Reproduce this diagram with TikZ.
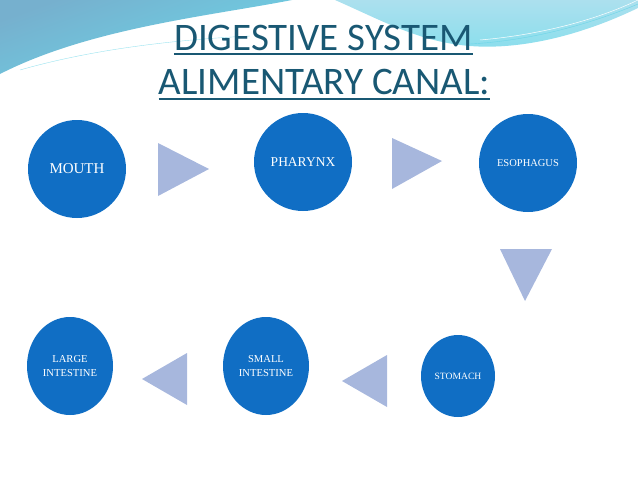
\documentclass[tikz,border=0pt]{standalone}
\usepackage{fontspec}
\newfontfamily\ttlfont{Carlito}
\newfontfamily\lblfont{Liberation Serif}
\usetikzlibrary{positioning,calc,shapes.geometric}
\definecolor{organblue}{RGB}{16,110,196}
\definecolor{arrowblue}{RGB}{167,183,221}
\definecolor{titleteal}{RGB}{25,88,115}
\definecolor{waveblue}{RGB}{118,176,206}
\definecolor{wavecyan}{RGB}{108,214,232}
\definecolor{wavelight}{RGB}{172,224,238}
\newcommand*{\lbl}[1]{\lblfont\fontsize{#1}{13.5}\selectfont}

\begin{document}
\begin{tikzpicture}[x=1pt,y=-1pt,
  organ/.style={fill=organblue,text=white,circle,minimum size=98pt,inner sep=0pt,align=center},
  organoval/.style={organ,ellipse,minimum width=86pt,minimum height=98pt},
  arrowfill/.style={fill=arrowblue},
  title/.style={text=titleteal,font=\ttlfont\fontsize{39}{44}\selectfont,inner sep=0pt,anchor=base},
  uline/.style={titleteal,line width=1.8pt}]
\useasboundingbox (0,0) rectangle (638,479);
% Waves along the top edge
\shade[top color=waveblue,bottom color=wavecyan,shading angle=20]
  (0,0) -- (292,0) .. controls (210,16) and (90,28) .. (0,74) -- cycle;
\shade[top color=wavelight,bottom color=wavecyan!80]
  (335,0) -- (638,0) -- (638,8) .. controls (580,36) and (520,50) .. (470,46)
  .. controls (420,42) and (385,22) .. (335,0) -- cycle;
\draw[white,line width=0.5pt] (10,72) .. controls (80,48) and (180,36) .. (260,32);
\draw[wavecyan!70,line width=0.4pt] (20,70) .. controls (90,50) and (170,40) .. (250,36);
\draw[wavecyan,line width=0.4pt] (470,44) .. controls (540,40) and (600,20) .. (638,4);
\draw[white,line width=0.5pt] (480,40) .. controls (550,34) and (605,16) .. (638,0);
% Title, two underlined lines
\node[title] (ttl1) at (323.5,50) {DIGESTIVE SYSTEM};
\node[title] (ttl2) at (324.5,94) {ALIMENTARY CANAL:};
\draw[uline] ($(ttl1.base west)+(0,4)$) -- ($(ttl1.base east)+(0,4)$);
\draw[uline] ($(ttl2.base west)+(0,5)$) -- ($(ttl2.base east)+(0,5)$);
% Top row of organs
\node[organ,font=\lbl{15}] (mouth) at (77,169) {MOUTH};
\node[organ,font=\lbl{13.5}] (pharynx) at (303,162) {PHARYNX};
\node[organ,font=\lbl{10.5}] (esophagus) at (528,163) {ESOPHAGUS};
% Bottom row of organs
\node[organoval,minimum width=74pt,minimum height=82pt,font=\lbl{9.6}] (stomach) at (458,376) {STOMACH};
\node[organoval,font=\lbl{10.6}] (small) at (266,366) {SMALL\\INTESTINE};
\node[organoval,font=\lbl{10.6}] (large) at (70,366) {LARGE\\INTESTINE};
% Block arrows between the organs
\fill[arrowfill] (158,143) -- (209,169) -- (158,196) -- cycle;
\fill[arrowfill] (392,138) -- (442,161) -- (392,189) -- cycle;
\fill[arrowfill] (500,249) -- (552,249) -- (525,301) -- cycle;
\fill[arrowfill] (387,355) -- (342,381) -- (387,407) -- cycle;
\fill[arrowfill] (187,353) -- (142,379) -- (187,405) -- cycle;
\end{tikzpicture}
\end{document}
